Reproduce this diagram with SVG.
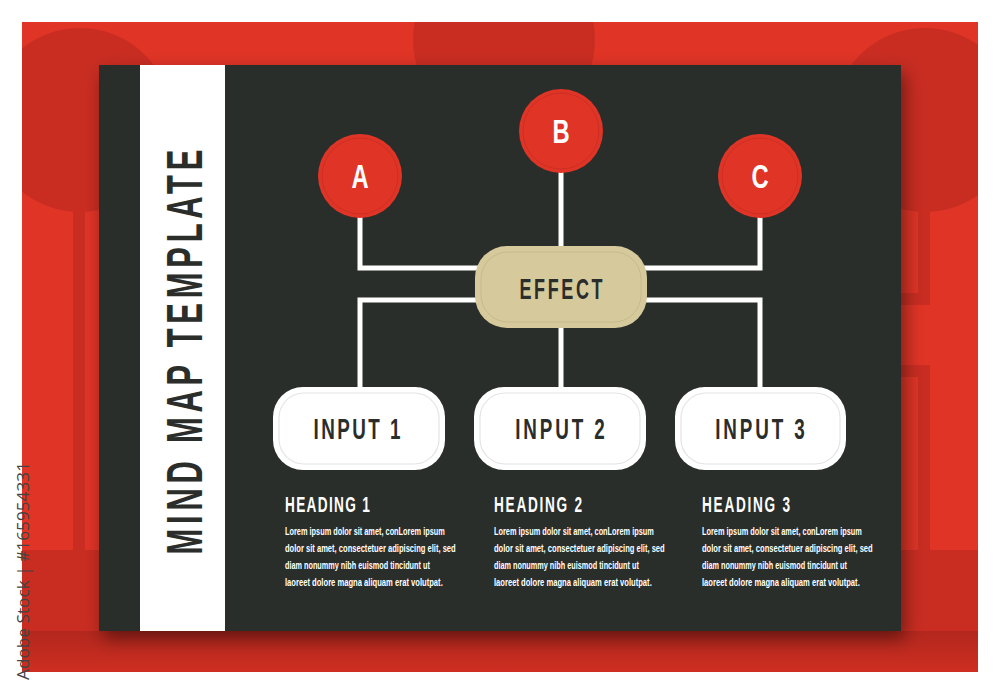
<svg xmlns="http://www.w3.org/2000/svg" width="1000" height="695" viewBox="0 0 1000 695">
<defs>
<style>
.cond{font-family:"Liberation Sans","Roboto",sans-serif;font-weight:bold}
.circ{fill:#df3426}
.ring{fill:none;stroke:#cc2f23;stroke-width:1}
.lbl{fill:#ffffff;font-size:34px;text-anchor:middle}
.inp{fill:#ffffff;stroke:#e4e4e4;stroke-width:1.2}
.inpt{fill:#2b2d2a;font-size:29px;text-anchor:middle}
.head{fill:#ffffff;font-size:22px}
.body{fill:#ffffff;font-size:10.5px}
.conn{fill:none;stroke:#ffffff;stroke-width:5}
.bg{fill:#c92d22}
</style>
<clipPath id="redclip"><rect x="22" y="22" width="956" height="650"/></clipPath>
<linearGradient id="bandg" x1="0" y1="0" x2="0" y2="1">
<stop offset="0" stop-color="#8a1c15"/>
<stop offset="1" stop-color="#d6301f"/>
</linearGradient>
<filter id="sh" x="-10%" y="-10%" width="125%" height="125%">
<feDropShadow dx="4" dy="8" stdDeviation="9" flood-color="#000" flood-opacity="0.45"/>
</filter>
</defs>
<rect x="0" y="0" width="1000" height="695" fill="#ffffff"/>
<g id="background" clip-path="url(#redclip)">
<rect x="22" y="22" width="956" height="650" fill="#df3426"/>
<circle class="bg" cx="80" cy="120" r="92"/>
<circle class="bg" cx="504" cy="40" r="91"/>
<circle class="bg" cx="925" cy="120" r="92"/>
<rect class="bg" x="73" y="205" width="12" height="360"/>
<rect class="bg" x="918" y="200" width="12" height="105"/>
<rect class="bg" x="895" y="293" width="35" height="12"/>
<rect class="bg" x="918" y="365" width="12" height="185"/>
<rect class="bg" x="895" y="365" width="35" height="12"/>
<rect class="bg" x="22" y="550" width="956" height="122"/>
<rect x="22" y="631" width="956" height="41" fill="url(#bandg)" opacity="0.35"/>
</g>
<g id="panel">
<rect x="99" y="65" width="802" height="566" fill="#2b2d2a" filter="url(#sh)"/>
<rect x="140" y="65" width="85" height="566" fill="#ffffff"/>
<g transform="translate(202,352) rotate(-90) scale(0.62,1)">
<text class="cond" x="0" y="0" font-size="50" fill="#2b2d2a" text-anchor="middle" textLength="653" lengthAdjust="spacing">MIND MAP TEMPLATE</text>
</g>
</g>
<g id="connectors">
<polyline class="conn" points="360,216 360,268 480,268"/>
<polyline class="conn" points="760,216 760,268 642,268"/>
<line class="conn" x1="561" y1="171" x2="561" y2="248"/>
<polyline class="conn" points="480,300 360,300 360,390"/>
<polyline class="conn" points="642,300 760,300 760,390"/>
<line class="conn" x1="561" y1="326" x2="561" y2="390"/>
</g>
<g id="node-a">
<circle class="circ" cx="360" cy="176" r="42"/>
<circle class="ring" cx="360" cy="176" r="38"/>
<text class="cond lbl" transform="translate(360,188) scale(0.7,1)">A</text>
</g>
<g id="node-b">
<circle class="circ" cx="561" cy="131" r="42"/>
<circle class="ring" cx="561" cy="131" r="38"/>
<text class="cond lbl" transform="translate(561,143) scale(0.7,1)">B</text>
</g>
<g id="node-c">
<circle class="circ" cx="760" cy="176" r="42"/>
<circle class="ring" cx="760" cy="176" r="38"/>
<text class="cond lbl" transform="translate(760,188) scale(0.7,1)">C</text>
</g>
<g id="node-effect">
<rect x="475" y="246" width="172" height="82" rx="32" fill="#d6c99c"/>
<rect x="481" y="252" width="160" height="70" rx="27" fill="none" stroke="#c8ba8a" stroke-width="1"/>
<text class="cond" transform="translate(561,299) scale(0.62,1)" font-size="29" fill="#2b2d2a" text-anchor="middle" textLength="134" lengthAdjust="spacing">EFFECT</text>
</g>
<g id="node-input1">
<rect x="273" y="387" width="172" height="83" rx="30" fill="#ffffff"/>
<rect class="inp" x="279" y="393" width="160" height="71" rx="25"/>
<text class="cond inpt" transform="translate(357,439) scale(0.65,1)" textLength="134" lengthAdjust="spacing">INPUT 1</text>
</g>
<g id="node-input2">
<rect x="474" y="387" width="172" height="83" rx="30" fill="#ffffff"/>
<rect class="inp" x="480" y="393" width="160" height="71" rx="25"/>
<text class="cond inpt" transform="translate(560,439) scale(0.65,1)" textLength="138" lengthAdjust="spacing">INPUT 2</text>
</g>
<g id="node-input3">
<rect x="675" y="387" width="171" height="83" rx="30" fill="#ffffff"/>
<rect class="inp" x="681" y="393" width="159" height="71" rx="25"/>
<text class="cond inpt" transform="translate(760,439) scale(0.65,1)" textLength="138" lengthAdjust="spacing">INPUT 3</text>
</g>
<g id="text-1">
<text class="cond head" transform="translate(285,512) scale(0.62,1)" textLength="137" lengthAdjust="spacing">HEADING 1</text>
<text class="cond body" transform="translate(285,535) scale(0.68,1)" textLength="235" lengthAdjust="spacingAndGlyphs">Lorem ipsum dolor sit amet, conLorem ipsum</text>
<text class="cond body" transform="translate(285,552) scale(0.68,1)" textLength="251" lengthAdjust="spacingAndGlyphs">dolor sit amet, consectetuer adipiscing elit, sed</text>
<text class="cond body" transform="translate(285,569) scale(0.68,1)" textLength="213" lengthAdjust="spacingAndGlyphs">diam nonummy nibh euismod tincidunt ut</text>
<text class="cond body" transform="translate(285,586) scale(0.68,1)" textLength="232" lengthAdjust="spacingAndGlyphs">laoreet dolore magna aliquam erat volutpat.</text>
</g>
<g id="text-2">
<text class="cond head" transform="translate(494,512) scale(0.62,1)" textLength="142" lengthAdjust="spacing">HEADING 2</text>
<text class="cond body" transform="translate(494,535) scale(0.68,1)" textLength="235" lengthAdjust="spacingAndGlyphs">Lorem ipsum dolor sit amet, conLorem ipsum</text>
<text class="cond body" transform="translate(494,552) scale(0.68,1)" textLength="251" lengthAdjust="spacingAndGlyphs">dolor sit amet, consectetuer adipiscing elit, sed</text>
<text class="cond body" transform="translate(494,569) scale(0.68,1)" textLength="213" lengthAdjust="spacingAndGlyphs">diam nonummy nibh euismod tincidunt ut</text>
<text class="cond body" transform="translate(494,586) scale(0.68,1)" textLength="232" lengthAdjust="spacingAndGlyphs">laoreet dolore magna aliquam erat volutpat.</text>
</g>
<g id="text-3">
<text class="cond head" transform="translate(702,512) scale(0.62,1)" textLength="142" lengthAdjust="spacing">HEADING 3</text>
<text class="cond body" transform="translate(702,535) scale(0.68,1)" textLength="235" lengthAdjust="spacingAndGlyphs">Lorem ipsum dolor sit amet, conLorem ipsum</text>
<text class="cond body" transform="translate(702,552) scale(0.68,1)" textLength="251" lengthAdjust="spacingAndGlyphs">dolor sit amet, consectetuer adipiscing elit, sed</text>
<text class="cond body" transform="translate(702,569) scale(0.68,1)" textLength="213" lengthAdjust="spacingAndGlyphs">diam nonummy nibh euismod tincidunt ut</text>
<text class="cond body" transform="translate(702,586) scale(0.68,1)" textLength="232" lengthAdjust="spacingAndGlyphs">laoreet dolore magna aliquam erat volutpat.</text>
</g>
<text x="0" y="0" transform="translate(29,571) rotate(-90)" font-family="'Open Sans','Liberation Sans',sans-serif" font-size="17" fill="#444444" text-anchor="middle" textLength="218" lengthAdjust="spacingAndGlyphs">Adobe Stock | #165954331</text>
</svg>
